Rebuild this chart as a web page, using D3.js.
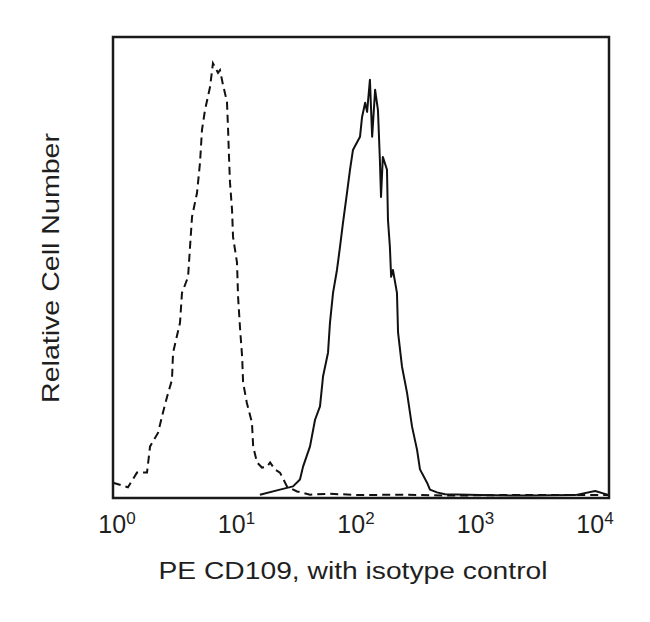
<!DOCTYPE html>
<html>
<head>
<meta charset="utf-8">
<script src="https://cdn.jsdelivr.net/npm/d3@7"></script>
<style>
  body { margin: 0; background: #fff; }
  text { font-family: "Liberation Sans", Arial, sans-serif; fill: #1f1f1f; }
</style>
</head>
<body>
<script>
// fluorescence intensity (PE) and relative counts
var isoX = [1.00, 1.32, 1.56, 1.88, 1.99, 2.31, 2.53, 2.73, 2.99, 3.05, 3.47, 3.60, 4.03, 4.18, 4.34,
            4.76, 5.03, 5.22, 5.52, 6.06, 6.40, 7.03, 7.29, 7.71, 8.30, 8.46, 8.62, 8.78, 9.12, 9.29,
            10.0, 10.2, 10.6, 11.0, 11.2, 12.0, 13.2, 13.5, 14.5, 15.9, 17.5, 18.5, 20.2, 22.2, 25.3,
            30.5, 38.8, 56, 98, 207, 523, 1320, 4000, 10000];
var isoY = [3.0, 2.0, 5.2, 5.2, 10.9, 13.9, 18.3, 21.7, 25.4, 31.3, 37.8, 44.3, 47.8, 54.3, 60.9,
            66.1, 72.6, 79.8, 84.1, 89.1, 94.3, 92.2, 92.8, 89.6, 85.9, 80.4, 73.9, 68.3, 62.4, 56.5,
            50.9, 43.5, 36.3, 30.4, 24.8, 20.4, 16.1, 10.9, 7.4, 6.3, 6.5, 7.4, 5.9, 5.2, 2.2,
            1.1, 0.4, 0.6, 0.3, 0.4, 0.2, 0.3, 0.3, 0.3];

var cd109X = [15.3, 22.2, 28.3, 32.2, 34.1, 38.8, 42.6, 46.7, 49.4, 54.2, 56.2, 59.5, 64.0,
              67.7, 71.6, 77.1, 81.5, 86.1, 98.2, 102, 108, 112, 118, 123, 130, 137, 142, 145,
              150, 162, 165, 171, 175, 181, 195, 199, 214, 235, 258, 283, 299, 341, 360, 410,
              476, 911, 2300, 5330, 7740, 10000];
var cd109Y = [0.4, 1.5, 2.2, 3.7, 6.5, 10.9, 16.7, 19.6, 26.1, 31.3, 37.8, 44.3, 49.3,
              54.3, 59.6, 66.1, 71.1, 75.4, 78.3, 82.6, 85.7, 83.7, 90.7, 78.3, 88.5, 84.1, 73.3, 65.2,
              73.9, 71.1, 60.2, 54.3, 47.8, 49.3, 44.3, 35.7, 28.3, 22.6, 15.2, 10.2, 5.9, 3.0, 1.5, 0.9,
              0.5, 0.3, 0.2, 0.3, 1.2, 0.3];

var tickValues = [1, 10, 100, 1000, 10000];
var tickExp = ["0", "1", "2", "3", "4"];

var width = 650, height = 622;
var margin = {top: 37, right: 41, bottom: 124, left: 113};

var svg = d3.select("body").append("svg")
    .attr("width", width)
    .attr("height", height);

var x = d3.scaleLog()
    .domain([1, 10000])
    .range([margin.left, width - margin.right]);

var y = d3.scaleLinear()
    .domain([0, 100])
    .range([height - margin.bottom - 1.5, margin.top]);

// labels sit a little inside the frame ends
var labelX = d3.scaleLog()
    .domain(x.domain())
    .range([x.range()[0] + 4, x.range()[1] - 14]);

var line = d3.line()
    .x(function(d) { return x(d[0]); })
    .y(function(d) { return y(d[1]); });

// isotype control (dashed)
svg.append("path")
    .datum(d3.zip(isoX, isoY))
    .attr("fill", "none")
    .attr("stroke", "#111")
    .attr("stroke-width", 2)
    .attr("stroke-dasharray", "8,5")
    .attr("d", line);

// PE CD109 (solid)
svg.append("path")
    .datum(d3.zip(cd109X, cd109Y))
    .attr("fill", "none")
    .attr("stroke", "#111")
    .attr("stroke-width", 2)
    .attr("stroke-linejoin", "round")
    .attr("d", line);

// frame
svg.append("rect")
    .attr("x", x.range()[0])
    .attr("y", margin.top)
    .attr("width", x.range()[1] - x.range()[0])
    .attr("height", height - margin.bottom - margin.top)
    .attr("fill", "none")
    .attr("stroke", "#1a1a1a")
    .attr("stroke-width", 2.5);

// tick labels 10^n
var tl = svg.append("g").selectAll("text")
    .data(tickValues)
  .enter().append("text")
    .attr("x", function(d) { return labelX(d); })
    .attr("y", height - margin.bottom + 35)
    .attr("text-anchor", "middle")
    .style("font-size", "25px");

tl.append("tspan").text("10");
tl.append("tspan")
    .attr("dy", -9)
    .style("font-size", "17px")
    .text(function(d, i) { return tickExp[i]; });

// axis titles
svg.append("text")
    .attr("x", (x.range()[0] + x.range()[1]) / 2 - 8)
    .attr("y", 579)
    .attr("text-anchor", "middle")
    .attr("textLength", 389)
    .attr("lengthAdjust", "spacingAndGlyphs")
    .style("font-size", "23px")
    .text("PE CD109, with isotype control");

svg.append("text")
    .attr("transform", "translate(59,268) rotate(-90)")
    .attr("text-anchor", "middle")
    .attr("textLength", 270)
    .attr("lengthAdjust", "spacingAndGlyphs")
    .style("font-size", "24px")
    .text("Relative Cell Number");
</script>
</body>
</html>
